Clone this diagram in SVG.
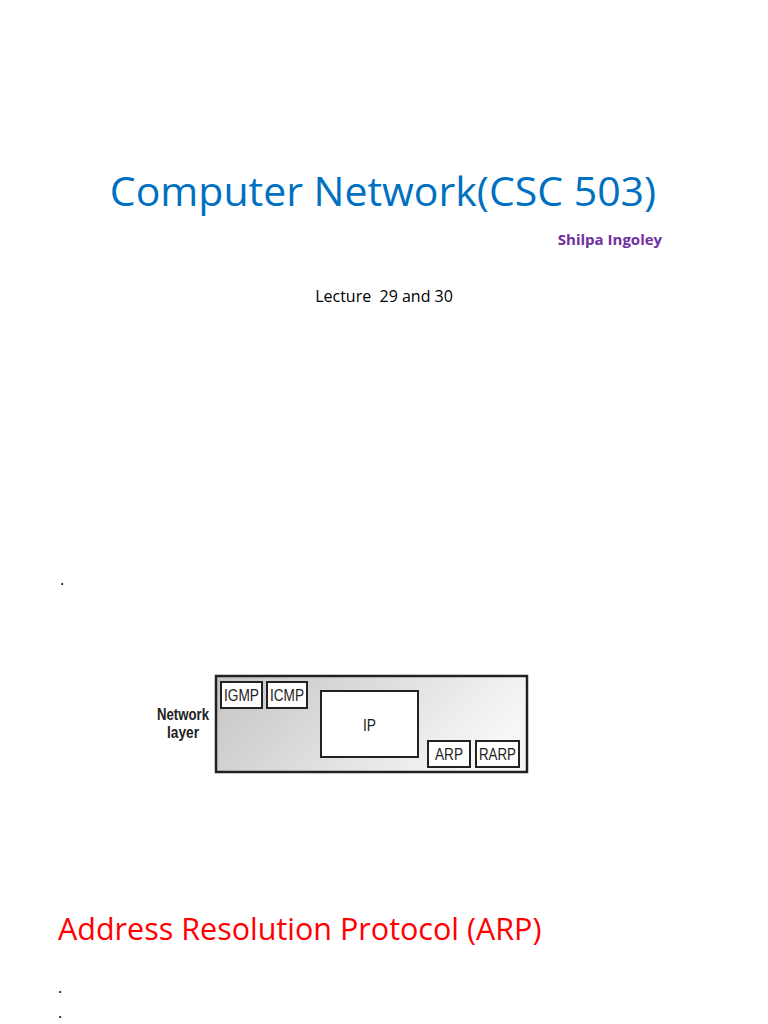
<svg xmlns="http://www.w3.org/2000/svg" width="768" height="1024" viewBox="0 0 768 1024">
<defs>
<linearGradient id="g" x1="0" y1="0" x2="1" y2="0.3">
<stop offset="0" stop-color="#c4c4c4"/><stop offset="1" stop-color="#f6f6f6"/>
</linearGradient>
<style>
.b{fill:#fff;stroke:#222;stroke-width:2}
.t{font-family:"Liberation Sans",Arial,sans-serif;font-size:17px;fill:#222;text-anchor:middle}
.s{font-family:"Open Sans","Liberation Sans",sans-serif}
</style>
</defs>
<rect width="768" height="1024" fill="#fff"/>
<text x="383" y="206" class="s" font-size="41" fill="#0070c0" text-anchor="middle">Computer Network(CSC 503)</text>
<text x="610" y="245" class="s" font-size="15" font-weight="bold" fill="#7030a0" text-anchor="middle">Shilpa Ingoley</text>
<text x="384" y="302" class="s" font-size="16" fill="#000" text-anchor="middle" xml:space="preserve">Lecture  29 and 30</text>
<text x="60" y="585" class="s" font-size="16" fill="#000">.</text>
<text x="183" y="720" class="t" font-weight="bold" textLength="52" lengthAdjust="spacingAndGlyphs">Network</text>
<text x="183" y="738" class="t" font-weight="bold" textLength="32" lengthAdjust="spacingAndGlyphs">layer</text>
<g id="network-layer"><rect x="216" y="676" width="311" height="96" fill="url(#g)" stroke="#222" stroke-width="2.5"/></g>
<g id="igmp"><rect class="b" x="221" y="682" width="41" height="26"/><text class="t" x="241.5" y="701" textLength="35" lengthAdjust="spacingAndGlyphs">IGMP</text></g>
<g id="icmp"><rect class="b" x="267" y="682" width="40" height="26"/><text class="t" x="287" y="701" textLength="34" lengthAdjust="spacingAndGlyphs">ICMP</text></g>
<g id="ip"><rect class="b" x="321" y="691" width="97" height="66"/><text class="t" x="369.5" y="731" textLength="13" lengthAdjust="spacingAndGlyphs">IP</text></g>
<g id="arp"><rect class="b" x="428" y="741" width="42" height="26"/><text class="t" x="449" y="760" textLength="28" lengthAdjust="spacingAndGlyphs">ARP</text></g>
<g id="rarp"><rect class="b" x="476" y="741" width="43" height="26"/><text class="t" x="497.5" y="760" textLength="37" lengthAdjust="spacingAndGlyphs">RARP</text></g>
<g id="connectors"/>
<text x="58" y="940" class="s" font-size="30.5" fill="#ff0000">Address Resolution Protocol (ARP)</text>
<text x="58" y="993" class="s" font-size="16" fill="#000">.</text>
<text x="58" y="1018" class="s" font-size="16" fill="#000">.</text>
</svg>
